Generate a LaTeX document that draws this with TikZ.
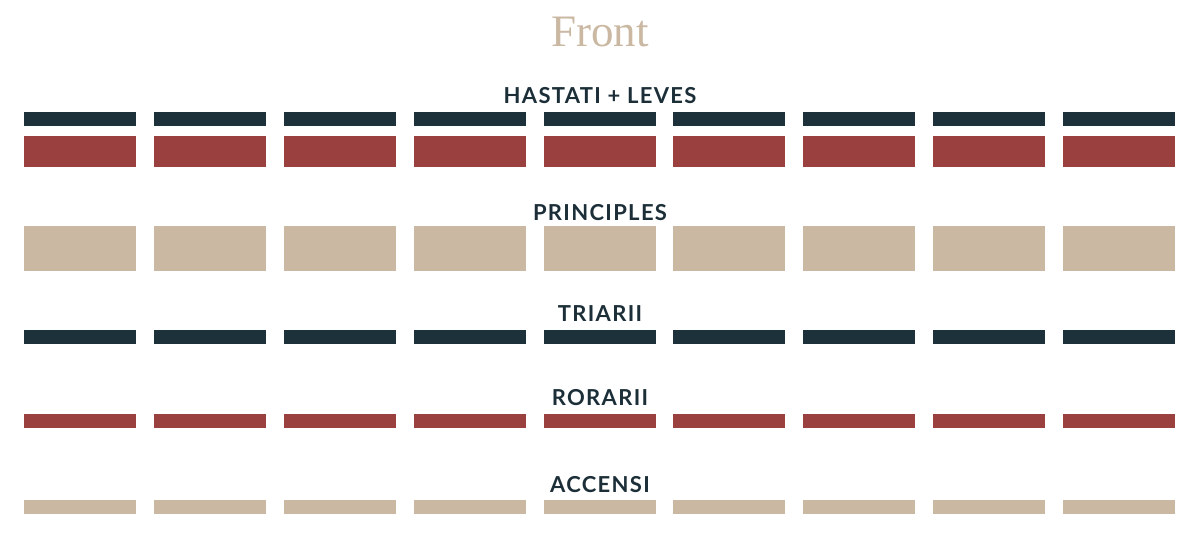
\documentclass[tikz,border=0pt]{standalone}
\usepackage{fontspec}
\setmainfont{Liberation Serif}
\newfontfamily\labelfont[LetterSpace=6]{Lato}
\newfontfamily\titlefont{Liberation Serif}
\definecolor{navy}{HTML}{1C313A}
\definecolor{brick}{HTML}{9A4140}
\definecolor{sand}{HTML}{CAB8A3}
\definecolor{ink}{HTML}{1C2F38}
\tikzset{
  x=1pt, y=-1pt,
  unit/.style={rectangle, inner sep=0pt, outer sep=0pt, anchor=north west, minimum width=112pt},
  rowlabel/.style={anchor=base, inner sep=0pt, text=ink, font=\labelfont\bfseries\fontsize{22}{22}\selectfont},
}
\begin{document}
\begin{tikzpicture}
\useasboundingbox (0,0) rectangle (1200,554);
\node[anchor=base, inner sep=0pt, text=sand, font=\titlefont\fontsize{45}{45}\selectfont] (front) at (600,46) {Front};
\node[rowlabel] (lhast) at (600,103) {HASTATI + LEVES};
\node[rowlabel] (lprin) at (600,220) {PRINCIPLES};
\node[rowlabel] (ltria) at (600,321) {TRIARII};
\node[rowlabel] (lrora) at (600,405) {RORARII};
\node[rowlabel] (lacce) at (600,492) {ACCENSI};
\foreach \i in {0,...,8} {
  \pgfmathsetmacro{\xx}{24+129.875*\i}
  \node[unit, fill=navy, minimum height=14pt] (lev\i) at (\xx,112) {};
  \node[unit, fill=brick, minimum height=31pt] (has\i) at (\xx,136) {};
  \node[unit, fill=sand, minimum height=45pt] (pri\i) at (\xx,226) {};
  \node[unit, fill=navy, minimum height=14pt] (tri\i) at (\xx,330) {};
  \node[unit, fill=brick, minimum height=14pt] (ror\i) at (\xx,414) {};
  \node[unit, fill=sand, minimum height=14pt] (acc\i) at (\xx,500) {};
}
\end{tikzpicture}
\end{document}
